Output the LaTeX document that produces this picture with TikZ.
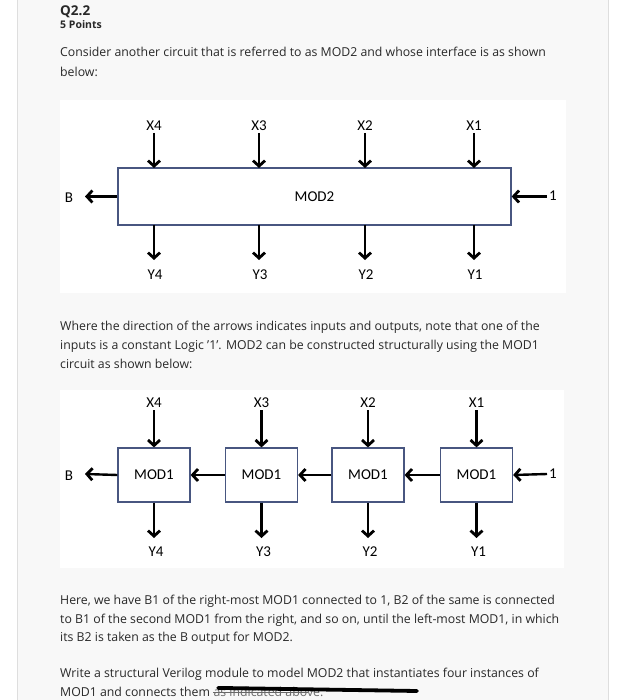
\documentclass[tikz,border=0pt]{standalone}
\usepackage{fontspec}
\setmainfont{Open Sans}
\newfontfamily\diagfont{Carlito}
\usetikzlibrary{arrows.meta}
\definecolor{boxblue}{RGB}{72,86,128}
\definecolor{panelbg}{RGB}{248,248,248}
\definecolor{panelline}{RGB}{222,222,222}
\definecolor{txt}{RGB}{40,40,40}
\begin{document}
\begin{tikzpicture}[x=1pt,y=-1pt,
  arr/.style={line width=2.4pt,-{Straight Barb[length=5.5pt,width=12pt,line width=2.8pt]}},
  blk/.style={draw=boxblue,line width=1.2pt,fill=white,inner sep=0pt,font=\diagfont\fontsize{15}{17}\selectfont},
  lbl/.style={inner sep=1pt,font=\diagfont\fontsize{15}{17}\selectfont},
  para/.style={anchor=base west,inner sep=0pt,text=txt,font=\fontsize{12.3}{14}\selectfont}]
\useasboundingbox (0,0) rectangle (626,700);
\fill[white] (0,0) rectangle (626,700);
\draw[draw=panelline,fill=panelbg,line width=0.8pt] (17,-5) rectangle (608,705);
\fill[white] (60,100) rectangle (566,293);
\fill[white] (60,390) rectangle (564,568);
% texts
\node[para,font=\bfseries\fontsize{13.5}{15}\selectfont] (q) at (60,16) {Q2.2};
\node[para,font=\bfseries\fontsize{10.5}{12}\selectfont] (pts) at (60,29) {5 Points};
\node[para] (t1) at (60,57) {Consider another circuit that is referred to as MOD2 and whose interface is as shown};
\node[para] (t2) at (60,77) {below:};
\node[para] (t3) at (60,330) {Where the direction of the arrows indicates inputs and outputs, note that one of the};
\node[para] (t4) at (60,349) {inputs is a constant Logic '1'. MOD2 can be constructed structurally using the MOD1};
\node[para] (t5) at (60,368) {circuit as shown below:};
\node[para] (t6) at (60,604) {Here, we have B1 of the right-most MOD1 connected to 1, B2 of the same is connected};
\node[para] (t7) at (60,623) {to B1 of the second MOD1 from the right, and so on, until the left-most MOD1, in which};
\node[para] (t8) at (60,641) {its B2 is taken as the B output for MOD2.};
\node[para] (t9) at (60,677) {Write a structural Verilog module to model MOD2 that instantiates four instances of};
\node[para] (t10) at (60,696) {MOD1 and connects them};
\node[para,anchor=base west,text=txt!70] (t11) at (t10.base east) {\ as indicated above.};
\draw[line width=0.8pt,txt!70] (t11.base west) ++(3,-4) -- ++(95,0);
\draw[line width=3.8pt,line cap=round] (t11.west) ++(8,-3.5) coordinate (s1) -- (417,691) coordinate (s2);
% diagram 1
\node[blk,minimum width=393pt,minimum height=57pt] (m2) at (314.5,196.5) {MOD2};
\foreach \n/\x in {4/154,3/259,2/365,1/474}{
  \node[lbl] (x\n) at (\x,126) {X\n};
  \node[lbl] (y\n) at (\x+1,275) {Y\n};
  \draw[arr] (\x,133) -- (\x,168);
  \draw[arr] (\x,225) -- (\x,260);
}
\node[lbl] (b) at (69,198) {B};
\node[lbl] (one) at (553,196) {1};
\draw[arr] (m2.west) -- (85,196.5);
\draw[arr] (547,196.5) -- (m2.east);
% diagram 2
\foreach \k/\x in {4/154,3/261.5,2/368,1/476.5}{
  \node[blk,minimum width=72pt,minimum height=54pt] (m\k) at (\x,475) {MOD1};
  \node[lbl] (xx\k) at (\x,403) {X\k};
  \node[lbl] (yy\k) at (\x+2,552) {Y\k};
  \draw[arr] (\x,410) -- (m\k.north);
  \draw[arr] (m\k.south) -- (\x,538);
}
\node[lbl] (bb) at (69,476) {B};
\node[lbl] (oneb) at (553,474) {1};
\draw[arr] (m4.west) -- (85,474);
\draw[arr] (m3.west) -- (m4.east);
\draw[arr] (m2.west) -- (m3.east);
\draw[arr] (m1.west) -- (m2.east);
\draw[arr] (547,474) -- (m1.east);
\end{tikzpicture}
\end{document}
